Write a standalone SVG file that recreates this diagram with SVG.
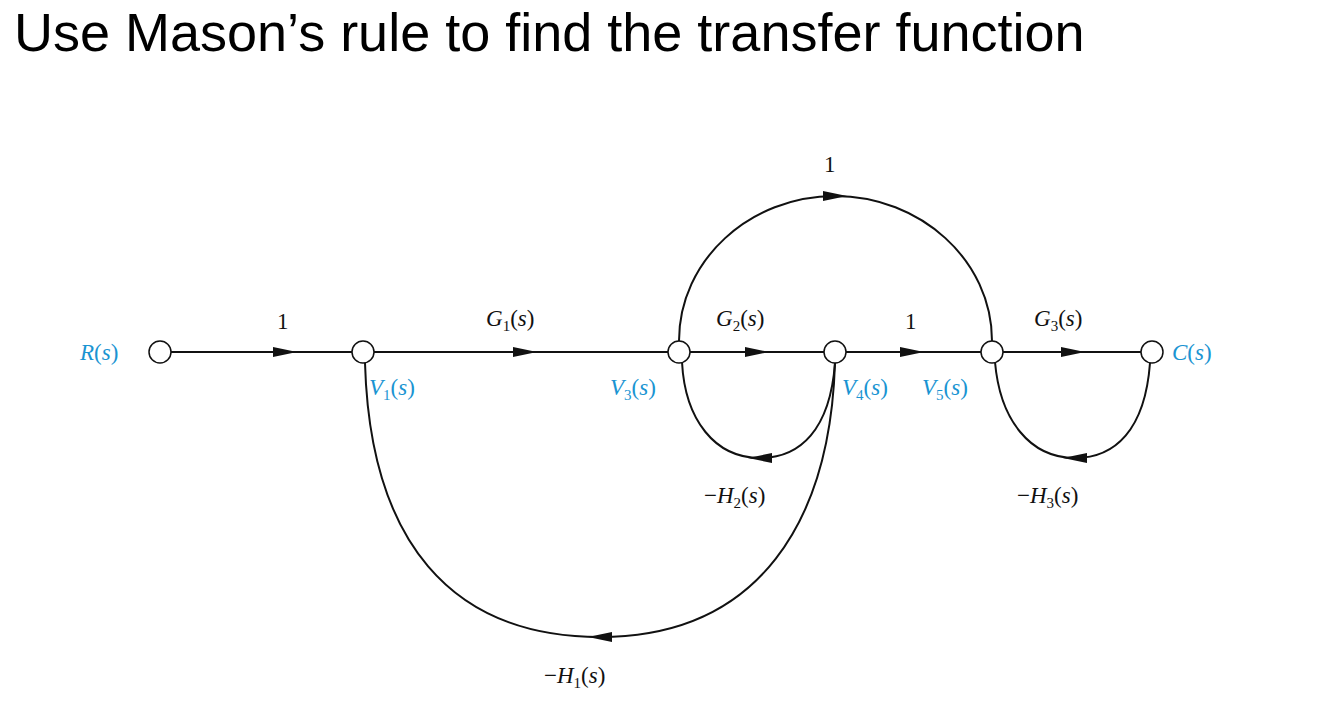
<svg xmlns="http://www.w3.org/2000/svg" width="1326" height="707" viewBox="0 0 1326 707">
<style>
.t{font-family:"Liberation Serif",serif;font-size:23px;fill:#111}
.b{font-family:"Liberation Serif",serif;font-size:23px;fill:#1a94d2;font-style:italic}
.i{font-style:italic}
.s{font-size:15px}
.e{fill:none;stroke:#111;stroke-width:2}
.n{fill:#fff;stroke:#111;stroke-width:1.5}
</style>
<defs><marker id="a" markerWidth="24" markerHeight="10" refX="12" refY="5" orient="auto" markerUnits="userSpaceOnUse"><path d="M0,0 L24,5 L0,10 Z" fill="#111"/></marker></defs>
<rect width="1326" height="707" fill="#fff"/>
<text x="14" y="51" font-family="Liberation Sans,Arial,sans-serif" font-size="54" fill="#000">Use Mason’s rule to find the transfer function</text>
<g id="connectors">
<path class="e" d="M171,352 L285,352" marker-end="url(#a)"/><path class="e" d="M285,352 L352,352"/>
<path class="e" d="M374,352 L525,352" marker-end="url(#a)"/><path class="e" d="M525,352 L668,352"/>
<path class="e" d="M690,352 L757,352" marker-end="url(#a)"/><path class="e" d="M757,352 L824,352"/>
<path class="e" d="M846,352 L912,352" marker-end="url(#a)"/><path class="e" d="M912,352 L981,352"/>
<path class="e" d="M1003,352 L1073,352" marker-end="url(#a)"/><path class="e" d="M1073,352 L1141,352"/>
<path class="e" d="M679,341 C679,260 750,196 835,196" marker-end="url(#a)"/><path class="e" d="M835,196 C920,196 992,260 992,341"/>
<path class="e" d="M835,363 C830,430 800,458 760,458" marker-end="url(#a)"/><path class="e" d="M760,458 C715,458 685,420 682,362"/>
<path class="e" d="M1150,363 C1145,430 1115,458 1075,458" marker-end="url(#a)"/><path class="e" d="M1075,458 C1030,458 1000,420 995,362"/>
<path class="e" d="M835,363 C830,520 760,637 600,637" marker-end="url(#a)"/><path class="e" d="M600,637 C450,637 370,540 365,363"/>
</g>
<g id="R"><circle class="n" cx="160" cy="352" r="11"/><text class="b" x="80" y="360">R<tspan font-style="normal">(</tspan>s<tspan font-style="normal">)</tspan></text></g>
<g id="V1"><circle class="n" cx="363" cy="352" r="11"/><text class="b" x="369" y="395">V<tspan class="s" dy="5" font-style="normal">1</tspan><tspan dy="-5" font-style="normal">(</tspan>s<tspan font-style="normal">)</tspan></text></g>
<g id="V3"><circle class="n" cx="679" cy="352" r="11"/><text class="b" x="610" y="395">V<tspan class="s" dy="5" font-style="normal">3</tspan><tspan dy="-5" font-style="normal">(</tspan>s<tspan font-style="normal">)</tspan></text></g>
<g id="V4"><circle class="n" cx="835" cy="352" r="11"/><text class="b" x="842" y="395">V<tspan class="s" dy="5" font-style="normal">4</tspan><tspan dy="-5" font-style="normal">(</tspan>s<tspan font-style="normal">)</tspan></text></g>
<g id="V5"><circle class="n" cx="992" cy="352" r="11"/><text class="b" x="922" y="395">V<tspan class="s" dy="5" font-style="normal">5</tspan><tspan dy="-5" font-style="normal">(</tspan>s<tspan font-style="normal">)</tspan></text></g>
<g id="C"><circle class="n" cx="1152" cy="352" r="11"/><text class="b" x="1172" y="360">C<tspan font-style="normal">(</tspan>s<tspan font-style="normal">)</tspan></text></g>
<g id="labels">
<text class="t" x="277" y="329">1</text>
<text class="t" x="486" y="326"><tspan class="i">G</tspan><tspan class="s" dy="5">1</tspan><tspan dy="-5">(</tspan><tspan class="i">s</tspan>)</text>
<text class="t" x="716" y="326"><tspan class="i">G</tspan><tspan class="s" dy="5">2</tspan><tspan dy="-5">(</tspan><tspan class="i">s</tspan>)</text>
<text class="t" x="905" y="329">1</text>
<text class="t" x="1034" y="326"><tspan class="i">G</tspan><tspan class="s" dy="5">3</tspan><tspan dy="-5">(</tspan><tspan class="i">s</tspan>)</text>
<text class="t" x="824" y="172">1</text>
<text class="t" x="704" y="503">−<tspan class="i">H</tspan><tspan class="s" dy="5">2</tspan><tspan dy="-5">(</tspan><tspan class="i">s</tspan>)</text>
<text class="t" x="1017" y="503">−<tspan class="i">H</tspan><tspan class="s" dy="5">3</tspan><tspan dy="-5">(</tspan><tspan class="i">s</tspan>)</text>
<text class="t" x="544" y="683">−<tspan class="i">H</tspan><tspan class="s" dy="5">1</tspan><tspan dy="-5">(</tspan><tspan class="i">s</tspan>)</text>
</g>
</svg>
